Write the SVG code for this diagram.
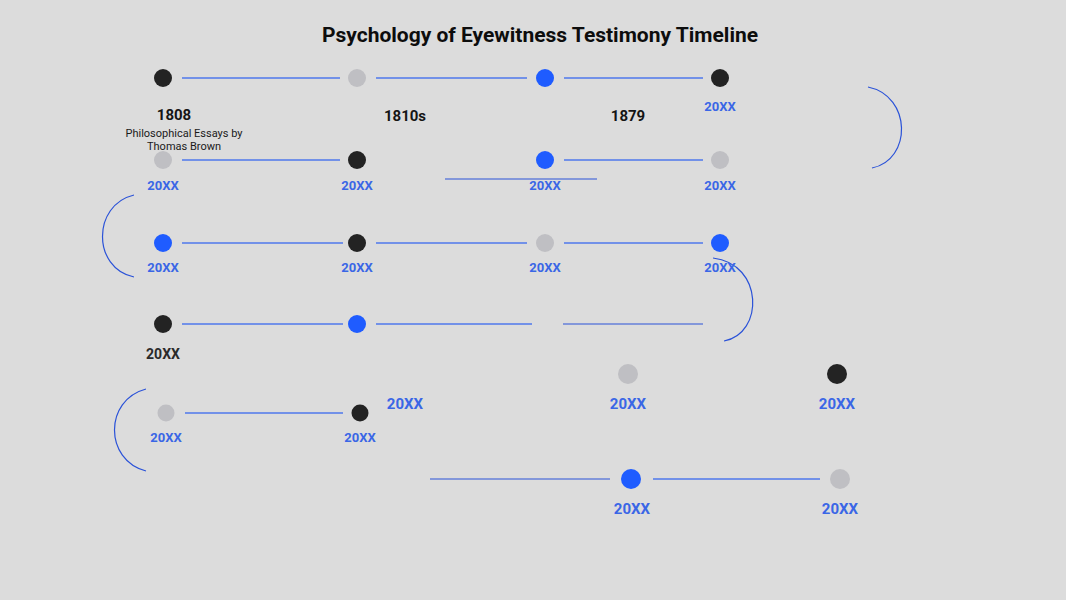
<svg xmlns="http://www.w3.org/2000/svg" width="1066" height="600" viewBox="0 0 1066 600">
<style>
.bg{fill:#dcdcdc}
.ln{stroke:#4f78ec;stroke-width:1.3;fill:none}
.arc{stroke:#2a52d8;stroke-width:1.2;fill:none}
.k{fill:#232323}
.g{fill:#bfbfc3}
.b{fill:#1f5cff}
.t{font-family:Roboto,"Liberation Sans",sans-serif;font-weight:700;text-anchor:middle}
.s{font-family:Roboto,"Liberation Sans",sans-serif;font-size:11px;text-anchor:middle;fill:#1a1a1a}
.lb{fill:#3a66e6}
.dk{fill:#151515}
</style>
<rect class="bg" x="0" y="0" width="1066" height="600"/>
<text class="t" x="540" y="42" font-size="21" fill="#0d0d0d">Psychology of Eyewitness Testimony Timeline</text>
<g id="connectors">
<line class="ln" x1="182" y1="78" x2="340" y2="78"/>
<line class="ln" x1="376" y1="78" x2="527" y2="78"/>
<line class="ln" x1="564" y1="78" x2="703" y2="78"/>
<line class="ln" x1="182" y1="160" x2="340" y2="160"/>
<line class="ln" x1="564" y1="160" x2="703" y2="160"/>
<line class="arc" x1="445" y1="179" x2="597" y2="179"/>
<line class="ln" x1="182" y1="243" x2="343" y2="243"/>
<line class="ln" x1="376" y1="243" x2="527" y2="243"/>
<line class="ln" x1="564" y1="243" x2="703" y2="243"/>
<line class="ln" x1="182" y1="324" x2="343" y2="324"/>
<line class="ln" x1="376" y1="324" x2="532" y2="324"/>
<line class="arc" x1="563" y1="324" x2="703" y2="324"/>
<line class="ln" x1="185" y1="413" x2="343" y2="413"/>
<line class="arc" x1="430" y1="479" x2="610" y2="479"/>
<line class="ln" x1="653" y1="479" x2="820" y2="479"/>
<path class="arc" d="M868 87 C912 96 912 160 872 168"/>
<path class="arc" d="M134 195 C92 205 92 268 134 277"/>
<path class="arc" d="M713 258 C764 264 764 334 724 341"/>
<path class="arc" d="M146 389 C104 400 104 460 146 471"/>
</g>
<g id="n1"><circle class="k" cx="163" cy="78" r="9"/><text class="t dk" x="174" y="120" font-size="15">1808</text><text class="s" x="184" y="137">Philosophical Essays by</text><text class="s" x="184" y="150">Thomas Brown</text></g>
<g id="n2"><circle class="g" cx="357" cy="78" r="9"/><text class="t dk" x="405" y="121" font-size="15">1810s</text></g>
<g id="n3"><circle class="b" cx="545" cy="78" r="9"/><text class="t dk" x="628" y="121" font-size="15">1879</text></g>
<g id="n4"><circle class="k" cx="720" cy="78" r="9"/><text class="t lb" x="720" y="111" font-size="13">20XX</text></g>
<g id="n5"><circle class="g" cx="163" cy="160" r="9"/><text class="t lb" x="163" y="190" font-size="13">20XX</text></g>
<g id="n6"><circle class="k" cx="357" cy="160" r="9"/><text class="t lb" x="357" y="190" font-size="13">20XX</text></g>
<g id="n7"><circle class="b" cx="545" cy="160" r="9"/><text class="t lb" x="545" y="190" font-size="13">20XX</text></g>
<g id="n8"><circle class="g" cx="720" cy="160" r="9"/><text class="t lb" x="720" y="190" font-size="13">20XX</text></g>
<g id="n9"><circle class="b" cx="163" cy="243" r="9"/><text class="t lb" x="163" y="272" font-size="13">20XX</text></g>
<g id="n10"><circle class="k" cx="357" cy="243" r="9"/><text class="t lb" x="357" y="272" font-size="13">20XX</text></g>
<g id="n11"><circle class="g" cx="545" cy="243" r="9"/><text class="t lb" x="545" y="272" font-size="13">20XX</text></g>
<g id="n12"><circle class="b" cx="720" cy="243" r="9"/><text class="t lb" x="720" y="272" font-size="13">20XX</text></g>
<g id="n13"><circle class="k" cx="163" cy="324" r="9"/><text class="t" x="163" y="359" font-size="14" fill="#2a2a2a">20XX</text></g>
<g id="n14"><circle class="b" cx="357" cy="324" r="9"/></g>
<g id="n15"><text class="t lb" x="405" y="409" font-size="15">20XX</text></g>
<g id="n16"><circle class="g" cx="628" cy="374" r="10"/><text class="t lb" x="628" y="409" font-size="15">20XX</text></g>
<g id="n17"><circle class="k" cx="837" cy="374" r="10"/><text class="t lb" x="837" y="409" font-size="15">20XX</text></g>
<g id="n18"><circle class="g" cx="166" cy="413" r="8.5"/><text class="t lb" x="166" y="442" font-size="13">20XX</text></g>
<g id="n19"><circle class="k" cx="360" cy="413" r="8.5"/><text class="t lb" x="360" y="442" font-size="13">20XX</text></g>
<g id="n20"><circle class="b" cx="631" cy="479" r="10"/><text class="t lb" x="632" y="514" font-size="15">20XX</text></g>
<g id="n21"><circle class="g" cx="840" cy="479" r="10"/><text class="t lb" x="840" y="514" font-size="15">20XX</text></g>
</svg>
